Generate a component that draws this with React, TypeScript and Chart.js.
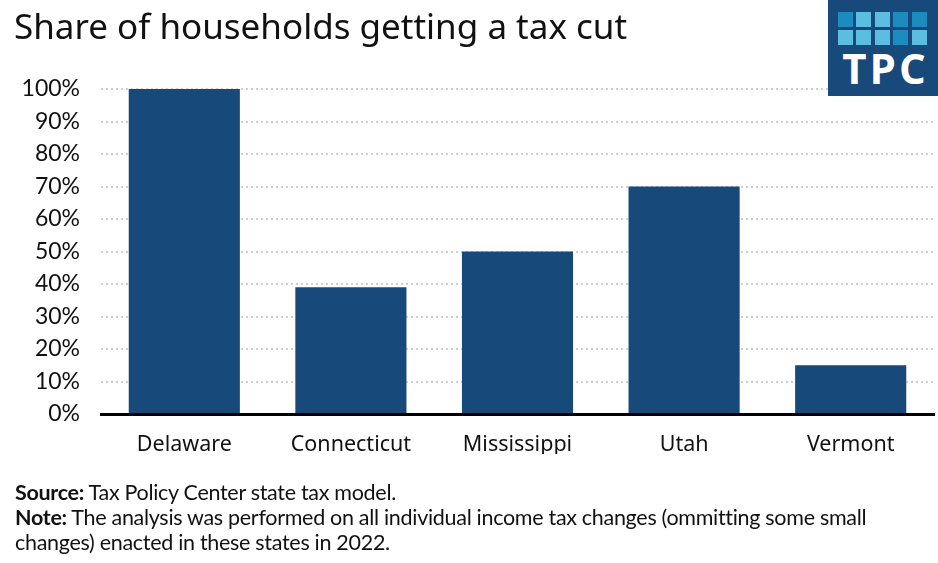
import React, { useEffect, useRef } from "react";
import { Chart, registerables } from "chart.js";

Chart.register(...registerables);

const categories = ["Delaware", "Connecticut", "Mississippi", "Utah", "Vermont"];
const shares = [100, 39, 50, 70, 15];
const yTicks = [0, 10, 20, 30, 40, 50, 60, 70, 80, 90, 100];

const BAR = "#17497a";
const DARK_SQ = "#1b8cbd";
const LIGHT_SQ = "#5bbde0";
const logoRows = [
  [DARK_SQ, LIGHT_SQ, LIGHT_SQ, DARK_SQ, DARK_SQ],
  [LIGHT_SQ, LIGHT_SQ, LIGHT_SQ, DARK_SQ, LIGHT_SQ],
];

export default function App() {
  const ref = useRef<HTMLCanvasElement | null>(null);

  useEffect(() => {
    document.body.style.margin = "0";
    const ctx = ref.current!;
    const chart = new Chart(ctx, {
      type: "bar",
      data: {
        labels: categories,
        datasets: [
          {
            data: shares,
            backgroundColor: BAR,
            barPercentage: 0.667,
            categoryPercentage: 1,
          },
        ],
      },
      options: {
        animation: false,
        responsive: false,
        maintainAspectRatio: false,
        layout: { padding: { top: 89, left: 0, right: 4, bottom: 109 } },
        plugins: { legend: { display: false }, tooltip: { enabled: false } },
        scales: {
          x: {
            grid: { display: false, drawTicks: false },
            border: { display: true, color: "#000", width: 3, z: 1 },
            ticks: {
              color: "#111",
              font: { family: "Noto Sans", size: 21.5 },
              padding: 18,
            },
            afterFit: (s: any) => {
              s.height = 40;
            },
          },
          y: {
            min: 0,
            max: 100,
            afterBuildTicks: (s: any) => {
              s.ticks = yTicks.map((v) => ({ value: v }));
            },
            grid: {
              color: (c: any) => (c.tick && c.tick.value === 0 ? "rgba(0,0,0,0)" : "#cfcfcf"),
              lineWidth: 2,
              drawTicks: false,
            },
            border: { display: false, dash: [2, 3] },
            ticks: {
              color: "#111",
              font: { family: "Lato", size: 23 },
              padding: 21,
              callback: (v: any) => v + "%",
            },
            afterFit: (s: any) => {
              s.width = 101;
            },
          },
        },
      },
    } as any);
    return () => chart.destroy();
  }, []);

  return (
    <div style={{ position: "relative", width: 938, height: 563, background: "#fff", overflow: "hidden" }}>
      <canvas ref={ref} width={938} height={563} style={{ position: "absolute", left: 0, top: 0, width: 938, height: 563 }} />
      <div
        style={{
          position: "absolute",
          left: 14,
          top: 2,
          fontFamily: "Noto Sans",
          fontSize: 35,
          lineHeight: "48px",
          color: "#111",
          whiteSpace: "nowrap",
        }}
      >
        Share of households getting a tax cut
      </div>
      <div style={{ position: "absolute", left: 828, top: 0, width: 110, height: 96, background: BAR }}>
        {logoRows.map((row, r) =>
          row.map((col, i) => (
            <div
              key={r + "-" + i}
              style={{
                position: "absolute",
                left: 10 + i * 18.4,
                top: 12 + r * 17.5,
                width: 15,
                height: 15,
                background: col,
              }}
            />
          ))
        )}
        <div
          style={{
            position: "absolute",
            left: 4,
            top: 44,
            width: 104,
            textAlign: "center",
            color: "#fff",
            fontFamily: "Open Sans",
            fontWeight: 700,
            fontSize: 42,
            lineHeight: "48px",
            letterSpacing: 3,
            paddingLeft: 3,
            boxSizing: "border-box",
          }}
        >
          TPC
        </div>
      </div>
      <div
        style={{
          position: "absolute",
          left: 15,
          top: 480,
          fontFamily: "Lato",
          fontSize: 21.5,
          lineHeight: "25px",
          letterSpacing: -0.3,
          color: "#111",
          width: 920,
          whiteSpace: "nowrap",
        }}
      >
        <div>
          <b>Source:</b> Tax Policy Center state tax model.
        </div>
        <div>
          <b>Note:</b> The analysis was performed on all individual income tax changes (ommitting some small
        </div>
        <div>changes) enacted in these states in 2022.</div>
      </div>
    </div>
  );
}
